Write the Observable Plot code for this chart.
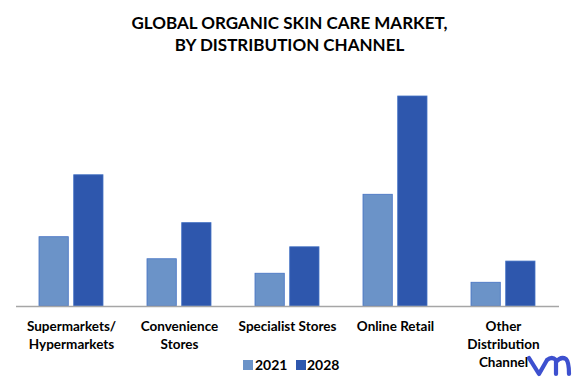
<!DOCTYPE html>
<html>
<head>
<meta charset="utf-8">
<script src="https://cdn.jsdelivr.net/npm/d3@7"></script>
<script src="https://cdn.jsdelivr.net/npm/@observablehq/plot@0.6"></script>
<style>
  html, body { margin: 0; padding: 0; background: #fff; }
  #wrap { position: relative; width: 579px; height: 385px; overflow: hidden; font-family: Lato, sans-serif; }
  #title { position: absolute; left: 0; width: 579px; top: 12px; text-align: center; font-weight: bold; font-size: 17px; line-height: 22px; color: #000; }
  #chart { position: absolute; left: 0; top: 0; }
  #legend { position: absolute; top: 357px; left: 0; width: 579px; height: 16px; font-weight: bold; font-size: 14px; color: #000; }
  .sw { position: absolute; width: 10px; height: 10px; top: 3px; }
  .lt { position: absolute; top: 0; line-height: 16px; }
  #logo { position: absolute; left: 526px; top: 355px; }
</style>
</head>
<body>
<div id="wrap">
  <div id="title">GLOBAL ORGANIC SKIN CARE MARKET,<br>BY DISTRIBUTION CHANNEL</div>
  <div id="chart"></div>
  <div id="legend"></div>
  <svg id="logo" width="48" height="22" viewBox="0 0 48 22">
    <path d="M3,3 L13,19 L21,5 Q26,1 30,5 L30,19 M30,7 Q35,1 40,4 Q43,7 43,19" fill="none" stroke="#3d50cf" stroke-width="4.2" stroke-linecap="round" stroke-linejoin="round"/>
  </svg>
</div>
<script>
const categories = ["Supermarkets/Hypermarkets", "Convenience Stores", "Specialist Stores", "Online Retail", "Other Distribution Channel"];
const tickLabels = ["Supermarkets/\nHypermarkets", "Convenience\nStores", "Specialist Stores", "Online Retail", "Other\nDistribution\nChannel"];
const series = ["2021", "2028"];
const values2021 = [3.30, 2.25, 1.56, 5.32, 1.13];
const values2028 = [6.25, 3.97, 2.82, 10.0, 2.14];
const colors = ["#6b93c8", "#2e57ad"];

const data = [];
categories.forEach((c, i) => {
  data.push({category: c, year: series[0], value: values2021[i]});
  data.push({category: c, year: series[1], value: values2028[i]});
});

const width = 579, height = 385;
const marginLeft = 16, marginRight = 20;
const padIn = 0.406, padOut = 0.203;
const step = (width - marginLeft - marginRight) / (categories.length - padIn + 2 * padOut);
const bw = step * (1 - padIn);
const barW = 29.8;
const inset = bw - barW;

const chart = Plot.plot({
  width, height,
  marginLeft, marginRight,
  marginTop: 96,
  marginBottom: 79,
  style: {fontFamily: "Lato, sans-serif", fontWeight: "bold", color: "#000", background: "transparent"},
  x: {domain: categories, paddingInner: padIn, paddingOuter: padOut, label: null},
  y: {domain: [0, 10], axis: null},
  marks: [
    Plot.barY(data.filter(d => d.year === series[0]), {x: "category", y: "value", fill: colors[0], stroke: "#4472c4", strokeWidth: 0.8, insetRight: inset}),
    Plot.barY(data.filter(d => d.year === series[1]), {x: "category", y: "value", fill: colors[1], stroke: "#4472c4", strokeWidth: 0.8, insetLeft: inset}),
    Plot.ruleY([0], {stroke: "#a6a6a6", strokeWidth: 1.3}),
    Plot.axisX({
      tickSize: 0, tickPadding: 12, fontSize: 13.5, lineHeight: 1.333, fill: "#000",
      tickFormat: d => tickLabels[categories.indexOf(d)], label: null
    })
  ]
});
document.getElementById("chart").appendChild(chart);

const legend = document.getElementById("legend");
const legendPos = [{sw: 243, tx: 255}, {sw: 296, tx: 307}];
series.forEach((s, i) => {
  const sw = document.createElement("div");
  sw.className = "sw";
  sw.style.left = legendPos[i].sw + "px";
  sw.style.background = colors[i];
  legend.appendChild(sw);
  const t = document.createElement("div");
  t.className = "lt";
  t.style.left = legendPos[i].tx + "px";
  t.textContent = s;
  legend.appendChild(t);
});
</script>
</body>
</html>
